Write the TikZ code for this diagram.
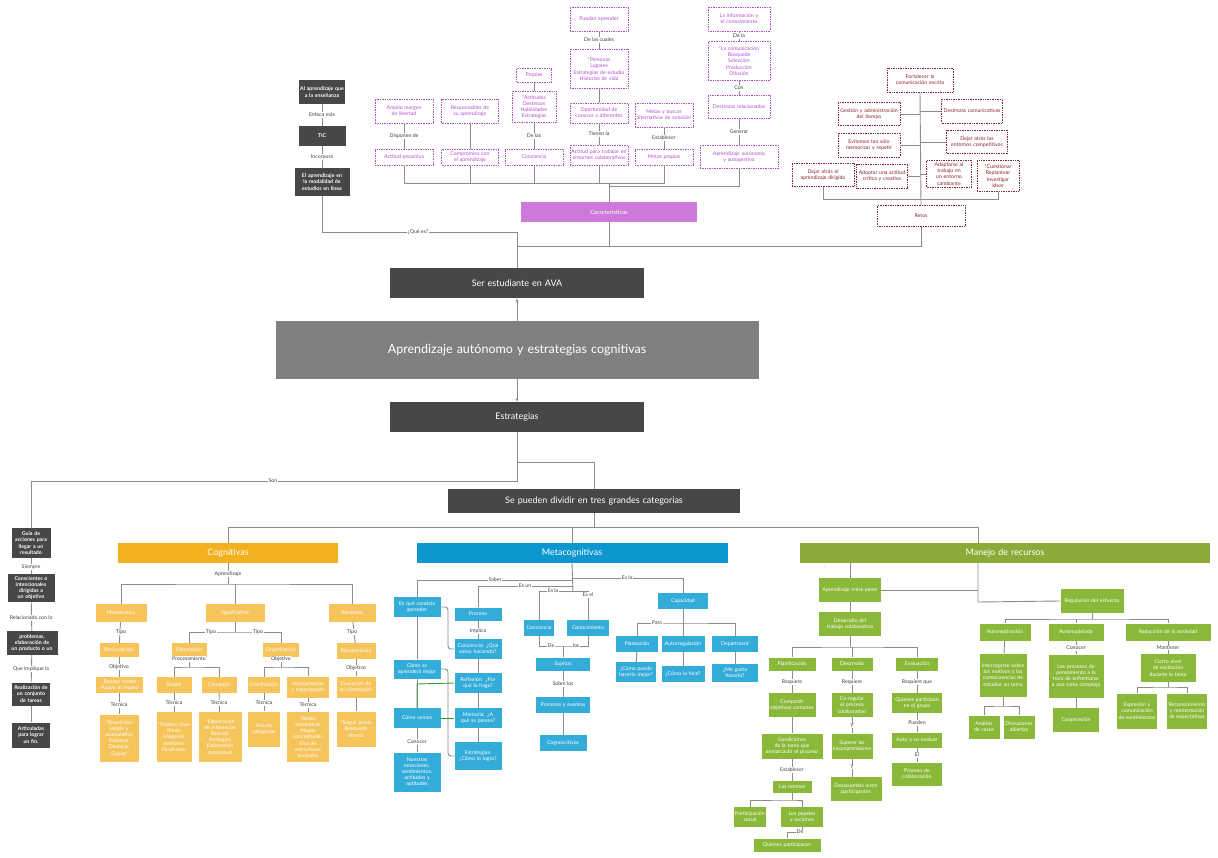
\documentclass[tikz,border=0pt]{standalone}
\usepackage{fontspec}
\setmainfont{Lato}
\usetikzlibrary{arrows.meta}
\hyphenpenalty=10000 \exhyphenpenalty=10000
\definecolor{dk}{HTML}{474747}
\definecolor{gr}{HTML}{808080}
\definecolor{lnc}{HTML}{8C8C8C}
\definecolor{cogT}{HTML}{F2B01E}
\definecolor{cog}{HTML}{F5C45A}
\definecolor{metaT}{HTML}{0D97D1}
\definecolor{meta}{HTML}{34ACD9}
\definecolor{manT}{HTML}{8AAB38}
\definecolor{man}{HTML}{8AB93A}
\definecolor{chc}{HTML}{CC7AD8}
\definecolor{pur}{HTML}{B44FCF}
\definecolor{redc}{HTML}{8A2432}
\definecolor{grn}{HTML}{3A9A3A}
\newcommand\fs{\fontsize{5.2}{6.2}\selectfont\hyphenpenalty=10000 }
\newcommand\bx[7]{\node[#6,minimum width=#4pt,minimum height=#5pt,text width=\dimexpr #4pt-2pt\relax] (#1) at (#2,#3) {#7};}
\tikzset{
 base/.style={inner sep=0.5pt,align=center,font=\fs},
 dkb/.style={base,fill=dk,text=white,font=\fs\bfseries},
 purb/.style={base,draw=pur,densely dotted,line width=0.7pt,text=pur,fill=white},
 redb/.style={base,draw=redc,densely dotted,line width=0.7pt,text=redc,fill=white},
 cogb/.style={base,fill=cog,text=white},
 metab/.style={base,fill=meta,text=white},
 manb/.style={base,fill=man,text=white},
 lbl/.style={fill=white,inner sep=0.6pt,font=\fs,text=black!75},
 ln/.style={draw=lnc,line width=0.9pt},
}
\begin{document}
\begin{tikzpicture}[x=1pt,y=-1pt]
\useasboundingbox[fill=white] (0,0) rectangle (1218,858);
% ---------- main spine
\bx{ser}{517}{283}{254}{30}{base,fill=dk,text=white,font=\fontsize{9}{11}\selectfont}{Ser estudiante en AVA}
\bx{apr}{517}{350}{483}{58}{base,fill=gr,text=white,font=\fontsize{12.5}{14}\selectfont}{Aprendizaje autónomo y estrategias cognitivas}
\bx{estr}{517}{417}{254}{30}{base,fill=dk,text=white,font=\fontsize{9}{11}\selectfont}{Estrategias}
\bx{sepu}{594}{501}{292}{24}{base,fill=dk,text=white,font=\fontsize{9}{11}\selectfont}{Se pueden dividir en tres grandes categorias}
% ---------- top left
\bx{a1}{322}{92}{46}{24}{dkb}{Al aprendizaje que a la enseñanza}
\bx{tic}{322}{136}{47}{20}{dkb}{TIC}
\bx{a3}{322}{182}{55}{28}{dkb}{El aprendizaje en la modalidad de estudios en línea}
% ---------- purple
\bx{amplio}{404}{111}{58}{24}{purb}{Amplio margen de libertad}
\bx{actpro}{404}{157}{58}{16}{purb}{Actitud proactiva}
\bx{resp}{470}{111}{57}{24}{purb}{Responsables de su aprendizaje}
\bx{comp}{470}{157}{57}{16}{purb}{Compromiso con el aprendizaje}
\bx{propias}{534}{75}{35}{14}{purb}{Propias}
\bx{actit}{534}{107}{44}{31}{purb}{*Actitudes\\*Destrezas\\*Habilidades\\*Estrategias}
\bx{concien}{534}{157}{58}{16}{purb}{Conciencia}
\bx{puedan}{599}{19}{58}{24}{purb}{Puedan aprender}
\bx{personas}{599}{69}{58}{39}{purb}{*Personas\\*Lugares\\*Estrategias de estudio\\*Historias de vida}
\bx{oport}{599}{113}{58}{20}{purb}{Oportunidad de conocer a diferentes}
\bx{actcol}{599}{155}{58}{20}{purb}{Actitud para trabajar en entornos colaborativos}
\bx{metasb}{664}{115}{58}{24}{purb}{Metas y buscar alternativas de solución}
\bx{metasp}{664}{157}{58}{16}{purb}{Metas propias}
\bx{info}{739}{19}{62}{24}{purb}{La información y el conocimiento}
\bx{comlist}{739}{61}{62}{39}{purb}{*La comunicación\\*Búsqueda\\*Selección\\*Producción\\*Difusión}
\bx{destr}{739}{107}{62}{23}{purb}{Destrezas relacionadas}
\bx{autog}{739}{157}{78}{23}{purb}{Aprendizaje autónomo y autogestivo}
\bx{char}{609}{212}{176}{20}{base,fill=chc,text=white,font=\fontsize{5.8}{7}\selectfont}{Características}
% ---------- retos
\bx{fort}{920}{80}{66}{24}{redb}{Fortalecer la comunicación escrita}
\bx{gest}{869}{114}{62}{23}{redb}{Gestión y administración del tiempo}
\bx{dcom}{972}{111}{61}{24}{redb}{Destrezas comunicativas}
\bx{evit}{869}{145}{62}{24}{redb}{Evitemos tan sólo memorizar y repetir}
\bx{dcomp}{977}{142}{61}{23}{redb}{Dejar atrás los entornos competitivos}
\bx{dejar}{823}{175}{62}{23}{redb}{Dejar atrás el aprendizaje dirigido}
\bx{adopt}{882}{176}{51}{24}{redb}{Adoptar una actitud crítica y creativa}
\bx{adapt}{949}{174}{45}{27}{redb}{Adaptarse al trabajo en un entorno cambiante}
\bx{cuest}{998}{176}{42}{31}{redb}{*Cuestionar\\*Replantear\\*Investigar\\*Idear}
\bx{retos}{921}{216}{88}{21}{redb}{Retos}
% ---------- left chain
\bx{guia}{31}{543}{39}{30}{dkb}{Guía de acciones para llegar a un resultado}
\bx{consc}{31}{588}{47}{28}{dkb}{Conscientes o intencionales dirigidas a un objetivo}
\bx{prob}{32}{643}{51}{24}{dkb}{problemas, elaboración de un producto o un}
\bx{real}{31}{694}{38}{23}{dkb}{Realización de un conjunto de tareas}
\bx{artic}{31}{735}{38}{25}{dkb}{Articuladas para lograr un fin.}
% ---------- categories
\bx{cogT}{228}{553}{220}{20}{base,fill=cogT,text=white,font=\fontsize{9}{11}\selectfont}{Cognitivas}
\bx{metaT}{572}{553}{311}{20}{base,fill=metaT,text=white,font=\fontsize{9}{11}\selectfont}{Metacognitivas}
\bx{manT}{1005}{553}{410}{20}{base,fill=manT,text=white,font=\fontsize{9}{11}\selectfont}{Manejo de recursos}
% ---------- cognitivas
\bx{memo}{121}{613}{51}{18}{cogb}{Memorístico}
\bx{signif}{235}{613}{59}{18}{cogb}{Significativo}
\bx{recu}{352}{613}{47}{18}{cogb}{Recuerdo}
\bx{recirc}{119}{650}{39}{14}{cogb}{Recirculación}
\bx{repaso}{119}{685}{47}{16}{cogb}{-Repaso simple\\-Apoyo al repaso}
\bx{repet}{119}{738}{39}{47}{cogb}{*Repetición simple y acumulativa\\*Subrayar\\*Destacar\\*Copiar}
\bx{elab}{189}{650}{35}{14}{cogb}{Elaboración}
\bx{organ}{281}{650}{36}{14}{cogb}{Organización}
\bx{simple}{174}{685}{35}{16}{cogb}{Simple}
\bx{compl}{219}{685}{35}{16}{cogb}{Complejo}
\bx{simplet}{174}{737}{35}{50}{cogb}{*Palabra clave\\*Rimas\\*Imágenes mentales\\*Parafraseo}
\bx{complt}{220}{737}{43}{50}{cogb}{*Elaboración de inferencias\\*Resumir\\*Analogías\\*Elaboración conceptual}
\bx{clasif}{264}{685}{32}{16}{cogb}{Clasificación}
\bx{jerar}{308}{687}{42}{21}{cogb}{Jerarquización y organización}
\bx{usocat}{264}{729}{32}{35}{cogb}{Uso de categorías}
\bx{redes}{308}{737}{42}{50}{cogb}{*Redes semánticas\\*Mapas conceptuales\\*Uso de estructuras textuales}
\bx{recup}{356}{651}{39}{16}{cogb}{Recuperación}
\bx{evoc}{356}{687}{39}{21}{cogb}{Evocación de la información}
\bx{seguir}{356}{729}{39}{35}{cogb}{*Seguir pistas\\*Búsqueda directa}
% ---------- metacognitivas
\bx{enque}{417}{607}{47}{20}{metab}{En qué consiste aprender}
\bx{proceso}{478}{614}{47}{13}{metab}{Proceso}
\bx{mconc}{478}{649}{47}{20}{metab}{Conciencia: ¿Qué estoy haciendo?}
\bx{refl}{478}{683}{47}{20}{metab}{Reflexión: ¿Por qué lo hago?}
\bx{memor}{478}{718}{47}{20}{metab}{Memoria: ¿A qué se parece?}
\bx{estrg}{478}{756}{47}{28}{metab}{Estrategias: ¿Cómo lo logro?}
\bx{como}{417}{669}{47}{19}{metab}{Cómo se aprenderá mejor}
\bx{somos}{417}{718}{47}{20}{metab}{Cómo somos}
\bx{nuestras}{417}{772}{47}{39}{metab}{Nuestras emociones, sentimientos, actitudes y aptitudes}
\bx{conc2}{539}{628}{30}{16}{metab}{Conciencia}
\bx{conoc}{588}{628}{42}{16}{metab}{Conocimiento}
\bx{sujetos}{563}{664}{54}{13}{metab}{Sujetos}
\bx{procev}{563}{705}{54}{16}{metab}{Procesos y eventos}
\bx{cognos}{563}{743}{47}{16}{metab}{Cognoscitivos}
\bx{capac}{683}{601}{50}{16}{metab}{Capacidad}
\bx{plane}{637}{644}{42}{16}{metab}{Planeación}
\bx{autor}{683}{644}{43}{16}{metab}{Autorregulación}
\bx{depa}{735}{644}{46}{16}{metab}{Department}
\bx{pmejor}{636}{672}{40}{20}{metab}{¿Cómo puedo hacerlo mejor?}
\bx{phice}{683}{674}{43}{16}{metab}{¿Cómo lo hice?}
\bx{pgusta}{735}{673}{46}{18}{metab}{¿Me gusta hacerlo?}
% ---------- manejo
\bx{aep}{850}{590}{62}{24}{manb}{Aprendizaje entre pares}
\bx{dtc}{850}{624}{62}{24}{manb}{Desarrollo del trabajo colaborativo}
\bx{plan}{792}{664}{47}{13}{manb}{Planificación}
\bx{desa}{852}{664}{41}{13}{manb}{Desarrollo}
\bx{eval}{917}{664}{42}{13}{manb}{Evaluación}
\bx{compart}{792}{705}{47}{24}{manb}{Compartir objetivos comunes}
\bx{coreg}{852}{705}{41}{24}{manb}{Co-regular el proceso colaborativo}
\bx{quien}{917}{703}{50}{20}{manb}{Quienes participan en el grupo}
\bx{cond}{792}{746}{61}{25}{manb}{Condiciones de la tarea que enmarcarán el proceso}
\bx{normas}{792}{787}{39}{12}{manb}{Las normas}
\bx{partic}{750}{817}{32}{20}{manb}{Participación social}
\bx{papeles}{802}{817}{42}{20}{manb}{Los papeles y acciones}
\bx{quienp}{787}{845}{67}{13}{manb}{Quienes participaron}
\bx{superar}{852}{746}{41}{25}{manb}{Superar las incomprensiones}
\bx{desac}{856}{789}{51}{24}{manb}{Desacuerdos entre participantes}
\bx{auto}{917}{740}{50}{15}{manb}{Auto y co-evaluar}
\bx{procol}{917}{774}{50}{23}{manb}{Proceso de colaboración}
\bx{regul}{1092}{601}{63}{24}{manb}{Regulación del esfuerzo}
\bx{automot}{1005}{632}{51}{17}{manb}{Automotivación}
\bx{automod}{1076}{632}{55}{17}{manb}{Automodelado}
\bx{reduc}{1168}{632}{85}{17}{manb}{Reducción de la ansiedad}
\bx{interr}{1003}{675}{47}{43}{manb}{Interrogarse sobre los motivos y las consecuencias de estudiar un tema}
\bx{analisis}{984}{727}{31}{23}{manb}{Análisis de casos}
\bx{discus}{1019}{727}{31}{23}{manb}{Discusiones abiertas}
\bx{losproc}{1076}{676}{55}{43}{manb}{Los procesos de pensamiento a la hora de enfrentarse a una tarea compleja}
\bx{coop}{1076}{720}{46}{24}{manb}{Cooperación}
\bx{cierto}{1168}{668}{55}{28}{manb}{Cierto nivel de excitación durante la tarea}
\bx{expr}{1137}{711}{40}{35}{manb}{Expresión y comunicación de sentimientos}
\bx{recon}{1187}{711}{40}{35}{manb}{Reconocimiento y reorientación de expectativas}
% ================= connectors
\draw[ln] (a1)--(tic); \draw[ln] (tic)--(a3);
\draw[ln] (a3.south) |- (517,232) -- (ser.north);
\coordinate (j1) at (517,246);
\draw[ln] (char.south) |- (j1);
\draw[ln] (retos.south) |- (j1);
\draw[ln,-{Stealth[length=4pt]}] (apr.north) -- (ser.south);
\draw[ln,-{Stealth[length=4pt]}] (apr.south) -- (estr.north);
% purple
\draw[ln] (amplio)--(actpro); \draw[ln] (resp)--(comp);
\draw[ln] (propias)--(actit); \draw[ln] (actit)--(concien);
\draw[ln] (puedan)--(personas); \draw[ln] (personas)--(oport); \draw[ln] (oport)--(actcol);
\draw[ln] (metasb)--(metasp);
\draw[ln] (info)--(comlist); \draw[ln] (comlist)--(destr); \draw[ln] (destr)--(autog);
\coordinate (cj) at (609,183);
\draw[ln] (actpro.south) |- (cj); \draw[ln] (comp.south) -- (comp.south |- cj);
\draw[ln] (concien.south) -- (concien.south |- cj); \draw[ln] (actcol.south) -- (actcol.south |- cj);
\draw[ln] (metasp.south) |- (cj); \draw[ln] (autog.south) |- (609,186) -- (char.north);
\draw[ln] (cj) -- (char.north);
% retos
\draw[ln] (fort.south) -- (retos.north);
\draw[ln] (gest.east) -- (gest.east -| fort.south);
\draw[ln] (evit.east) -- (evit.east -| fort.south);
\draw[ln] (adopt.east) -- (adopt.east -| fort.south);
\draw[ln] (dcom.west) -- (dcom.west -| fort.south);
\draw[ln] (dcomp.west) -- (dcomp.west -| fort.south);
\draw[ln] (adapt.west) -- (adapt.west -| fort.south);
\coordinate (rj) at (920,199);
\draw[ln] (dejar.south) |- (rj); \draw[ln] (cuest.south) |- (rj);
% center
\draw[ln] (estr.south) -- (517,481) -| (guia.north);
\draw[ln] (estr.south |- 0,462) -| (sepu.north);
\draw[ln] (guia)--(consc); \draw[ln] (consc)--(prob); \draw[ln] (prob)--(real); \draw[ln] (real)--(artic);
\draw[ln] (sepu.south) -- (594,527);
\draw[ln] (cogT.north) |- (978,527) -- (manT.north -| 978,0);
\draw[ln] (metaT.north) -- (metaT.north |- 0,527);
% cognitivas
\draw[ln] (cogT.south) -- (228,584);
\draw[ln] (memo.north) |- (228,584) -| (recu.north);
\draw[ln] (signif.north) -- (signif.north |- 0,584);
\draw[ln] (memo)--(recirc); \draw[ln] (recirc)--(repaso); \draw[ln] (repaso)--(repet);
\draw[ln] (signif.south) -- (235,632);
\draw[ln] (elab.north) |- (235,632) -| (organ.north);
\draw[ln] (elab.south) -- (189,667);
\draw[ln] (simple.north) |- (189,667) -| (compl.north);
\draw[ln] (organ.south) -- (281,667);
\draw[ln] (clasif.north) |- (281,667) -| (jerar.north);
\draw[ln] (simple)--(simplet); \draw[ln] (compl)--(complt);
\draw[ln] (clasif)--(usocat); \draw[ln] (jerar)--(redes);
\draw[ln] (recu)--(recup); \draw[ln] (recup)--(evoc); \draw[ln] (evoc)--(seguir);
% metacognitivas
\draw[ln] (metaT.south) -- (573,592);
\draw[ln] (573,580) -| (enque.north);
\draw[ln] (573,586) -| (proceso.north);
\draw[ln] (573,591) -| (conc2.north);
\draw[ln] (573,591) -| (conoc.north);
\draw[ln] (573,578) -| (capac.north);
\draw[ln] (proceso)--(mconc); \draw[ln] (mconc)--(refl); \draw[ln] (refl)--(memor); \draw[ln] (memor)--(estrg);
\draw[ln] (enque)--(como); \draw[ln] (como)--(somos); \draw[ln] (somos)--(nuestras);
\draw[ln,rounded corners=3pt] (enque.east) -- (448,607) |- (mconc.west);
\draw[ln,rounded corners=3pt] (como.east) -- (448,669) |- (estrg.west);
\draw[grn,line width=0.9pt] (refl.west) -- (417,684) -- (somos.north);
\draw[grn,line width=0.9pt] (somos.east) -- (memor.west);
\draw[ln] (conc2.south) |- (563,646) -| (conoc.south);
\draw[ln] (563,646) -- (sujetos.north);
\draw[ln] (sujetos)--(procev); \draw[ln] (procev)--(cognos);
\draw[ln] (capac.south) -- (683,623);
\draw[ln] (plane.north) |- (683,623) -| (depa.north);
\draw[ln] (683,623) -- (autor.north);
\draw[ln] (plane)--(pmejor); \draw[ln] (autor)--(phice); \draw[ln] (depa)--(pgusta);
% manejo
\draw[ln] (manT.south -| 978,0) -- (978,602) -- (regul.west);
\draw[ln] (aep.east) -- (aep.east -| 978,0);
\draw[ln] (manT.south -| aep.north) -- (aep.north);
\draw[ln] (aep)--(dtc);
\draw[ln] (dtc.south) -- (850,647);
\draw[ln] (plan.north) |- (850,647) -| (eval.north);
\draw[ln] (desa.north) -- (desa.north |- 0,647);
\draw[ln] (plan)--(compart); \draw[ln] (compart)--(cond); \draw[ln] (cond)--(normas);
\draw[ln] (desa)--(coreg); \draw[ln] (coreg)--(superar); \draw[ln] (superar)--(desac.north -| superar.south);
\draw[ln] (eval)--(quien); \draw[ln] (quien)--(auto); \draw[ln] (auto)--(procol);
\draw[ln] (normas.south) -- (792,800);
\draw[ln] (partic.north) |- (792,800) -| (papeles.north);
\draw[ln] (papeles.south) -- (papeles.south |- 0,832) -| (quienp.north);
\draw[ln] (regul.south) -- (1092,619);
\draw[ln] (automot.north) |- (1092,619) -| (reduc.north);
\draw[ln] (automod.north) -- (automod.north |- 0,619);
\draw[ln] (automot)--(interr);
\draw[ln] (interr.south) -- (1003,706);
\draw[ln] (analisis.north) |- (1003,706) -| (discus.north);
\draw[ln] (automod)--(losproc); \draw[ln] (losproc)--(coop);
\draw[ln] (reduc)--(cierto);
\draw[ln] (cierto.south) -- (1168,687);
\draw[ln] (expr.north) |- (1168,687) -| (recon.north);
% ================= labels
\node[lbl] (l1) at (322,115) {Enfoca más};
\node[lbl] (l2) at (322,157) {Incorpora};
\node[lbl] (l3) at (418,232) {¿Qué es?};
\node[lbl] (l4) at (404,136) {Disponen de};
\node[lbl] (l5) at (534,136) {De las};
\node[lbl] (l6) at (599,40) {De las cuales};
\node[lbl] (l7) at (599,134) {Tienen la};
\node[lbl] (l8) at (664,138) {Establecer};
\node[lbl] (l9) at (739,36) {De la};
\node[lbl] (l10) at (739,88) {Con};
\node[lbl] (l11) at (739,132) {Generar};
\node[lbl] (l12) at (273,481) {Son};
\node[lbl] (l13) at (31,567) {Siempre};
\node[lbl] (l14) at (31,618) {Relacionado con la};
\node[lbl] (l15) at (31,669) {Que implique la};
\node[lbl] (l16) at (228,574) {Aprendizaje};
\node[lbl] (l17) at (121,632) {Tipo};
\node[lbl] (l18) at (119,667) {Objetivo};
\node[lbl] (l19) at (119,705) {Técnica};
\node[lbl] (l20) at (211,632) {Tipo};
\node[lbl] (l21) at (258,632) {Tipo};
\node[lbl] (l22) at (189,659) {Procesamiento};
\node[lbl] (l23) at (281,659) {Objetivo};
\node[lbl] (l24) at (174,703) {Técnica};
\node[lbl] (l25) at (219,703) {Técnica};
\node[lbl] (l26) at (264,703) {Técnica};
\node[lbl] (l27) at (308,705) {Técnica};
\node[lbl] (l28) at (352,632) {Tipo};
\node[lbl] (l29) at (356,668) {Objetivo};
\node[lbl] (l30) at (495,580) {Saber};
\node[lbl] (l31) at (525,586) {Es un};
\node[lbl] (l32) at (553,591) {Es la};
\node[lbl] (l33) at (588,595) {Es el};
\node[lbl] (l34) at (627,578) {Es la};
\node[lbl] (l35) at (478,631) {Implica};
\node[lbl] (l36) at (417,742) {Conocer};
\node[lbl] (l37) at (551,646) {De};
\node[lbl] (l38) at (576,646) {los};
\node[lbl] (l39) at (563,684) {Sobre los};
\node[lbl] (l40) at (657,623) {Para};
\node[lbl] (l41) at (792,682) {Requiere};
\node[lbl] (l42) at (852,682) {Requiere};
\node[lbl] (l43) at (917,682) {Requiere que};
\node[lbl] (l44) at (852,726) {Y};
\node[lbl] (l45) at (852,767) {Y};
\node[lbl] (l46) at (917,723) {Pueden};
\node[lbl] (l47) at (917,755) {El};
\node[lbl] (l48) at (792,770) {Establecer};
\node[lbl] (l49) at (800,832) {De};
\node[lbl] (l50) at (1076,648) {Conocer};
\node[lbl] (l51) at (1168,648) {Mantener};
\node[lbl] (l52) at (825,567) {.};
\end{tikzpicture}
\end{document}
